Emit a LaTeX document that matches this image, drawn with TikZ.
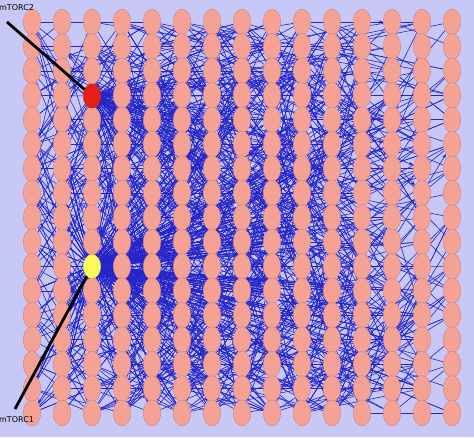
\documentclass[tikz,border=0pt]{standalone}
\usepackage{fontspec}
\setmainfont{DejaVu Sans}
\usetikzlibrary{arrows.meta,shapes.geometric}
\pgfdeclarelayer{bg}
\pgfdeclarelayer{edges}
\pgfsetlayers{bg,edges,main}
\definecolor{bgc}{RGB}{200,200,246}
\definecolor{nodefill}{RGB}{245,162,150}
\definecolor{nodedraw}{RGB}{212,128,122}
\definecolor{edgec}{RGB}{36,36,200}
\definecolor{tipc}{RGB}{20,20,110}
\definecolor{redn}{RGB}{230,30,22}
\definecolor{yelln}{RGB}{250,250,90}
\begin{document}
\begin{tikzpicture}[x=1pt,y=-1pt,
  gene/.style={ellipse,draw=nodedraw,fill=nodefill,line width=0.4pt,minimum width=17.5pt,minimum height=26pt,inner sep=0pt},
  edge/.style={draw=edgec,line width=0.6pt},
  arr/.style={draw=edgec,line width=0.6pt,-{Stealth[length=4.5pt,width=3.5pt,fill=tipc]}},
  hub/.style={line width=2.8pt,black},
  lab/.style={font=\fontsize{8}{9}\selectfont,anchor=west,inner sep=0pt}]
\useasboundingbox (0,0) rectangle (474,437);
\begin{pgfonlayer}{bg}
  \fill[bgc] (0,0) rectangle (474,437);
\end{pgfonlayer}
% grid of nodes
\foreach \c in {0,...,14}{
  \foreach \r in {0,...,16}{
    \pgfmathtruncatemacro\idx{\c*100+\r}
    \ifnum\idx=203 \else\ifnum\idx=210 \else
      \node[gene] (n-\c-\r) at ({32+30*\c},{22+24.44*\r}) {};
    \fi\fi
  }
}
\node[gene,fill=redn,draw=redn!85!black,minimum height=24pt] (n-2-3) at (92,96) {};
\node[gene,fill=yelln,draw=yelln!85!black,minimum height=24pt] (n-2-10) at (92,266.4) {};
\pgfmathsetseed{11}
\begin{pgfonlayer}{edges}
% general edges
\foreach \k in {1,...,1000}{
  \pgfmathtruncatemacro\ca{random(2,10)}
  \pgfmathtruncatemacro\ra{random(0,16)}
  \pgfmathtruncatemacro\cb{min(14,max(0,\ca+random(-4,5)))}
  \pgfmathtruncatemacro\lo{max(0,\ra-6)}
  \pgfmathtruncatemacro\hi{min(16,\ra+6)}
  \pgfmathtruncatemacro\rb{random(\lo,\hi)}
  \ifnum\ca=\cb \pgfmathtruncatemacro\cb{\ca+1}\fi
  \ifnum\ra=\rb
    \ifnum\ra=0 \def\rb{2}\fi
    \ifnum\ra=16 \def\rb{14}\fi
  \fi
  \pgfmathtruncatemacro\m{mod(\k,23)}
  \ifnum\m=0
    \draw[arr] (n-\ca-\ra) -- (n-\cb-\rb);
  \else
    \draw[edge] (n-\ca-\ra) -- (n-\cb-\rb);
  \fi
}
% left side edges
\foreach \k in {1,...,70}{
  \pgfmathtruncatemacro\ca{random(0,1)}
  \pgfmathtruncatemacro\ra{random(0,16)}
  \pgfmathtruncatemacro\cb{\ca+random(1,4)}
  \pgfmathtruncatemacro\lo{max(0,\ra-5)}
  \pgfmathtruncatemacro\hi{min(16,\ra+5)}
  \pgfmathtruncatemacro\rb{random(\lo,\hi)}
  \draw[edge] (n-\ca-\ra) -- (n-\cb-\rb);
}
% right side edges
\foreach \k in {1,...,70}{
  \pgfmathtruncatemacro\ca{random(9,12)}
  \pgfmathtruncatemacro\ra{random(0,16)}
  \pgfmathtruncatemacro\cb{min(14,\ca+random(1,3))}
  \pgfmathtruncatemacro\lo{max(0,\ra-5)}
  \pgfmathtruncatemacro\hi{min(16,\ra+5)}
  \pgfmathtruncatemacro\rb{random(\lo,\hi)}
  \pgfmathtruncatemacro\m{mod(\k,9)}
  \ifnum\m=0
    \draw[arr] (n-\ca-\ra) -- (n-\cb-\rb);
  \else
    \draw[edge] (n-\ca-\ra) -- (n-\cb-\rb);
  \fi
}
% mTORC2 fan
\foreach \k in {1,...,90}{
  \pgfmathtruncatemacro\cb{random(3,12)}
  \pgfmathtruncatemacro\rb{random(0,11)}
  \draw[edge] (n-2-3) -- (n-\cb-\rb);
}
% mTORC1 fan
\foreach \k in {1,...,200}{
  \pgfmathtruncatemacro\cb{random(3,14)}
  \pgfmathtruncatemacro\rb{random(3,16)}
  \draw[edge] (n-2-10) -- (n-\cb-\rb);
}
\foreach \k in {1,...,80}{
  \pgfmathtruncatemacro\cb{random(4,9)}
  \pgfmathtruncatemacro\rb{random(8,12)}
  \draw[edge] (n-2-10) -- (n-\cb-\rb);
}
\foreach \k in {1,...,60}{
  \pgfmathtruncatemacro\cb{random(0,1)}
  \pgfmathtruncatemacro\rb{random(5,15)}
  \draw[edge] (n-2-10) -- (n-\cb-\rb);
}
% top row links
\draw[arr] (n-9-0) -- (n-12-0);
\draw[edge] (n-12-0) -- (n-13-0);
\end{pgfonlayer}
% labels and pointers
\node[lab] (l2) at (-1,8) {mTORC2};
\node[lab] (l1) at (-1,420) {mTORC1};
\coordinate (e2) at (7,22);
\coordinate (e1) at (15,409);
\draw[hub] (e2) -- (n-2-3);
\draw[hub] (e1) -- (n-2-10);
\end{tikzpicture}
\end{document}
